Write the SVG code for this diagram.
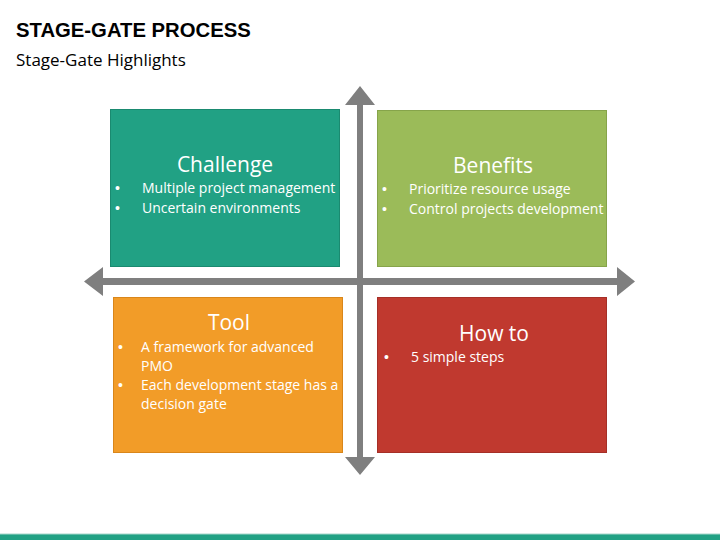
<svg xmlns="http://www.w3.org/2000/svg" width="720" height="540" viewBox="0 0 720 540">
<style>
.title{font-family:"Liberation Sans",Arial,sans-serif;font-weight:bold;font-size:20.3px;fill:#000}
.sub{font-family:"Open Sans","Liberation Sans",sans-serif;font-size:17px;fill:#000}
.h{font-family:"Open Sans","Liberation Sans",sans-serif;font-size:21px;fill:#fff;text-anchor:middle}
.t{font-family:"Open Sans","Liberation Sans",sans-serif;font-size:14px;fill:#fff}
.b{font-family:"Liberation Sans",Arial,sans-serif;font-size:14px;fill:#fff}
.arrow{fill:#7f7f7f}
</style>
<rect width="720" height="540" fill="#fff"/>
<text class="title" x="16" y="37">STAGE-GATE PROCESS</text>
<text class="sub" x="16" y="66">Stage-Gate Highlights</text>

<g id="axes">
<polygon class="arrow" points="357,105 345,105 360,86 375,105 363,105 363,457 375,457 360,475 345,457 357,457"/>
<polygon class="arrow" points="103,278 103,267 84,281.5 103,296 103,285 617,285 617,296 635,281.5 617,267 617,278"/>
</g>

<g id="challenge">
<rect x="110.5" y="109.5" width="229" height="157" fill="#21a184" stroke="#1a8a70"/>
<text class="h" x="225" y="172">Challenge</text>
<text class="b" x="115" y="193">•</text><text class="t" x="142" y="193">Multiple project management</text>
<text class="b" x="115" y="213">•</text><text class="t" x="142" y="213">Uncertain environments</text>
</g>

<g id="benefits">
<rect x="377.5" y="110.5" width="229" height="156" fill="#9bbb59" stroke="#86a44a"/>
<text class="h" x="493" y="173">Benefits</text>
<text class="b" x="382" y="194">•</text><text class="t" x="409" y="194">Prioritize resource usage</text>
<text class="b" x="382" y="214">•</text><text class="t" x="409" y="214">Control projects development</text>
</g>

<g id="tool">
<rect x="113.5" y="297.5" width="229" height="155" fill="#f29c28" stroke="#d9861a"/>
<text class="h" x="229" y="330">Tool</text>
<text class="b" x="118" y="352">•</text><text class="t" x="141" y="352">A framework for advanced</text>
<text class="t" x="141" y="371">PMO</text>
<text class="b" x="118" y="390">•</text><text class="t" x="141" y="390">Each development stage has a</text>
<text class="t" x="141" y="409">decision gate</text>
</g>

<g id="howto">
<rect x="377.5" y="297.5" width="229" height="155" fill="#c0392f" stroke="#a52f27"/>
<text class="h" x="494" y="341">How to</text>
<text class="b" x="384" y="362">•</text><text class="t" x="411" y="362">5 simple steps</text>
</g>

<rect x="0" y="534" width="720" height="6" fill="#21a184"/>
<rect x="0" y="533.5" width="720" height="1" fill="#a8d8cc"/>
</svg>
